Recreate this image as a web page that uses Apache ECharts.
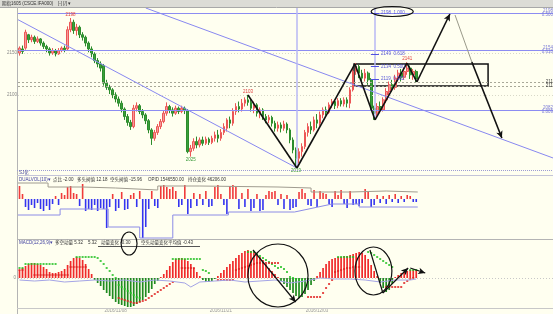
<!DOCTYPE html>
<html><head><meta charset="utf-8">
<script src="https://cdn.jsdelivr.net/npm/echarts@6/dist/echarts.min.js"></script>
<style>html,body{margin:0;padding:0;background:#fffff0;overflow:hidden}#c{width:553px;height:314px}</style>
</head><body><div id="c"></div>
<script>
// ---------- data ----------
const TOTAL = 178;
// [open, close, low, high]
const candles = [
[2150,2156,2147,2158],[2155,2152,2149,2159],[2156,2175,2154,2178],[2172,2166,2162,2173],[2166,2169,2163,2172],
[2169,2164,2161,2171],[2164,2167,2162,2170],[2167,2162,2159,2168],[2162,2158,2155,2164],[2158,2155,2151,2160],
[2155,2150,2147,2157],[2150,2153,2148,2156],[2153,2149,2146,2155],[2149,2153,2148,2156],[2153,2156,2151,2158],
[2156,2154,2151,2159],[2155,2178,2153,2182],[2178,2187,2175,2192],[2187,2177,2173,2190],[2177,2181,2171,2185],
[2181,2172,2168,2183],[2172,2169,2165,2175],[2169,2162,2158,2171],[2162,2155,2151,2164],[2155,2149,2145,2158],
[2149,2141,2138,2151],[2141,2137,2133,2144],[2137,2132,2128,2140],[2135,2114,2111,2137],[2114,2109,2106,2118],
[2109,2106,2101,2112],[2106,2100,2096,2108],[2100,2095,2091,2103],[2095,2090,2086,2098],[2090,2083,2079,2093],
[2083,2074,2070,2085],[2074,2067,2063,2077],[2067,2062,2058,2070],[2062,2084,2060,2088],[2084,2087,2080,2091],
[2087,2080,2077,2089],[2080,2076,2072,2083],[2076,2069,2065,2078],[2069,2058,2054,2071],[2058,2048,2040,2060],
[2048,2055,2045,2058],[2055,2062,2052,2065],[2062,2068,2059,2071],[2068,2078,2066,2081],[2078,2086,2075,2091],
[2086,2082,2078,2088],[2082,2078,2074,2085],[2078,2084,2076,2087],[2084,2080,2077,2086],[2080,2084,2078,2087],
[2084,2081,2077,2086],[2081,2032,2030,2083],[2032,2036,2026,2040],[2036,2044,2033,2048],[2044,2040,2036,2050],
[2040,2046,2037,2049],[2046,2042,2039,2050],[2042,2047,2040,2050],[2047,2043,2040,2049],[2043,2048,2041,2051],
[2048,2052,2044,2056],[2052,2048,2043,2058],[2048,2055,2045,2059],[2055,2062,2052,2066],[2060,2070,2056,2072],
[2070,2066,2060,2074],[2066,2080,2063,2084],[2080,2086,2076,2090],[2086,2083,2079,2092],[2083,2090,2080,2095],
[2090,2094,2086,2097],[2094,2091,2087,2100],[2091,2084,2080,2094],[2084,2088,2078,2092],[2088,2078,2074,2090],
[2078,2082,2072,2085],[2082,2074,2070,2084],[2074,2070,2066,2077],[2070,2073,2066,2076],[2073,2066,2062,2075],
[2066,2060,2056,2069],[2060,2064,2056,2068],[2064,2060,2055,2067],[2060,2065,2057,2069],[2065,2058,2054,2067],
[2058,2046,2042,2060],[2046,2034,2030,2049],[2034,2024,2013,2037],[2024,2032,2018,2036],[2032,2038,2026,2042],
[2038,2055,2035,2058],[2055,2062,2050,2066],[2062,2058,2053,2068],[2058,2070,2056,2074],[2070,2066,2060,2077],
[2066,2076,2063,2080],[2076,2082,2072,2085],[2082,2079,2075,2086],[2079,2088,2077,2091],[2088,2092,2084,2095],
[2092,2087,2083,2094],[2087,2093,2084,2096],[2093,2089,2086,2096],[2089,2094,2086,2097],[2094,2090,2085,2097],
[2090,2106,2084,2109],[2106,2128,2104,2132],[2128,2134,2124,2138],[2134,2126,2120,2136],[2126,2120,2114,2130],
[2120,2126,2116,2131],[2126,2118,2112,2128],[2118,2084,2082,2120],[2084,2078,2070,2087],[2078,2086,2075,2090],
[2086,2082,2078,2092],[2082,2094,2080,2097],[2094,2104,2090,2108],[2104,2112,2100,2116],[2112,2109,2104,2118],
[2109,2120,2106,2124],[2120,2126,2116,2130],[2126,2121,2116,2131],[2121,2128,2118,2133],[2128,2132,2124,2139],
[2132,2124,2119,2135],[2124,2128,2118,2131],[2128,2119,2115,2130]
];
const dualVol = [
13,5,-8,-11,-6,-9,-4,-10,-12,-7,
-11,-5,3,-6,6,4,12,13,6,5,
-7,15,-12,-10,-11,-6,-12,-9,-10,-29,
-8,5,-12,-9,7,-11,-10,4,6,-8,
8,-39,-28,-10,8,-7,-9,13,14,12,
10,12,8,-8,-6,14,-15,-9,6,-7,
5,-6,8,-8,-7,12,14,5,-6,-15,
13,14,12,-10,6,-8,10,-12,-9,5,
-12,-11,4,8,7,8,-6,5,-10,4,
-11,-9,-8,7,10,6,-6,-7,9,-8,
8,6,5,-5,-8,8,4,9,-5,-9,
8,-6,-5,-7,-4,10,7,-8,-6,4,
-4,3,-5,4,-3,5,-4,3,-3,4,
3,-3,-3
];
const dvUpper = [[-0.5,16],[9.5,16],[9.5,12],[21,12],[21,11],[32,11],[32,9],[46,9],[46,13],[60,13],[60,12],[86,12],[86,11],[97,11],[97,7],[110,7],[110,8],[122,8],[122,7],[132.5,7]];
const dvLower = [[-0.5,-16],[13.5,-16],[13.5,-10],[29.5,-10],[29.5,-28],[40,-28],[40,-39],[51,-39],[51,-16],[69.5,-16],[69.5,-13],[91.5,-13],[104,-5],[113,-5],[113,-8],[132.5,-8]];
const macdHist = [
8,10,12,14,15, 15,14,13,11,9, 6,5,5,6,7, 9,13,17,20,21, 20,18,14,9,4,
-2,-5,-8, -12,-15,-18,-21,-24,-26,-27,-28, -29,
-29,-28,-26,-24,-22,-19,-15,-11,-6, -3,1,
4,8,12,16,19,20,20,19,17,14,10,6,2,
-2,-4,-4,-3,-1,
2,5,8,11,14,17,20,23,25,27,28,27,26,24,21,18,14,10,7,4,1,
-3,-6,-9,-12,-15,-18,-20,-19,-16,-12,-7,-3,
2,6,10,14,17,19,20,21,21,22,22,23,24,25,26,25,23,19,13,7,2,
-5,-10,-14,-12,-6,
1,3,5,6,7,8,8,8
];
const macdLine = [[0,-2],[5,-3],[10,-2],[15,-4],[20,-3],[25,-2],[30,-3],[35,-2],[40,-4],[45,-2],[50,-3],[55,-5],[57,-9],[60,-4],[65,-3],[70,-2],[75,-4],[80,-3],[85,-2],[90,-5],[95,-3],[100,0],[105,-1],[110,-1],[115,-2],[120,-4],[125,-2],[130,-2],[132,-1]];
const greenDots = [[0,10],[1,10],[2,14],[3,14],[4,14],[5,14],[6,14],[7,14],[8,14],[9,14],[10,14],[11,14],[12,14],
[19,21],[20,21],[21,21],[22,21],[23,21],[24,21],[25,21],[26,20],[27,17],[28,14],[29,10],[30,7],[31,3],[32,0],
[33,-7],[34,-9],[35,-11],[36,-13],[37,-15],[38,-17],[39,-19],[40,-20],
[51,19],[52,19],[53,19],[54,19],[55,19],[56,19],[57,19],[58,19],[59,19],[60,19],[61,8],[62,7],[63,5],
[76,26],[77,26],[78,26],[79,24],[80,22],[81,20],[82,18],[83,16],[84,14],[85,12],[86,10],[87,11],[88,9],[89,6],
[90,1],[91,0],[92,-1],[93,-2],[94,-2],
[106,21],[107,21],[108,21],[109,21],[110,21],[111,21],
[116,26],[117,25],[118,23],[119,21],[120,19],[121,17],[122,15],[123,13],[124,11],[130,8],[131,8],[132,8]];
const redDots = [[0,8],[1,8],[5,3],[6,3],[7,3],[8,3],[9,3],[10,3],[11,3],[12,3],[13,3],[14,3],[15,3],[16,3],
[17,11],[18,11],[19,11],[20,11],[21,11],[22,11],
[33,-20],[34,-21],[35,-22],[36,-23],[37,-24],[38,-25],[39,-25],[40,-24],[41,-23],[42,-22],
[43,-20],[44,-18],[45,-16],[46,-14],[47,-12],[48,-10],[49,-8],[50,-6],[51,-4],
[54,10],[55,10],[56,10],[57,10],[58,10],
[66,-2],[67,-2],[68,-2],[69,-2],[70,-2],[71,-2],[72,8],[73,9],[74,10],[75,11],[76,12],[77,13],[78,14],
[79,15],[80,15],[81,15],[82,15],[83,15],[84,15],[85,15],[86,15],
[96,-19],[97,-19],[98,-19],[99,-19],[100,-19],[101,-15],[102,-10],[103,-6],[104,-2],
[105,6],[106,7],[107,8],[108,9],[109,10],[110,10],[111,11],[112,11],[113,11],
[122,-9],[123,-9],[124,-9],[125,-9],[126,-9],[127,-9],[128,-5],[129,-3],[130,-1],[131,0]];
const dateTicks = {32:'2016/11/08', 67:'2016/11/21', 99:'2016/12/03'};
// annotations in data space: [index, price]
const trendLines = [[-0.5,2190,92.3,2012.4],[42.0,2204,177.5,2024.4]];
const zigzag = [[76.0,2099.8],[92.3,2012.4],[111.6,2137],[118.3,2069.9],[128.9,2138.1],[132.2,2115.4],[143.2,2196.8]];
const projection = [[144.9,2195.6],[150.5,2139.3],[160.5,2048.3]];
const vertLines = [[92.3,2012.4],[118.3,2069.9]];
const fibLevels = [[2198,'2198  1.000'],[2149,'2149  0.618'],[2134,'2134  0.500'],[2119,'2119  0.382']];
const fibTick = [116.9,119.6];
const rightLevels = [[2198,'2198','0.500'],[2154,'2154','0.618'],[2082,'2082','0.809']];
const dottedLevels = [[2115.5,'2115'],[2110.6,'2110']];
const gridLevels = [2100,2150];
const boxArea = [[111.3,2137],[155.9,2110.6]];
const priceNotes = [[17,2192,'2198','top','#e03a3a'],[76,2100,'2103','top','#e03a3a'],[57,2026,'2025','bottom','#3a9a3a'],[92,2013,'2019','bottom','#3a9a3a'],[129,2139,'2141','top','#e03a3a']];
const mainRing = [[117,2205.8],[131,2193.8]];
const macdArrows = [[77.7,28,91.9,-24,1],[116.6,28,120.9,-15,0],[120.9,-15,129.3,10,1],[130,10,135,5,1]];
const macdRings = [[76,34,96,-29],[111.6,31,123.9,-17],[33.8,46,39.1,23]];

// ---------- chart ----------
const FONT = "'Liberation Sans','Noto Sans CJK SC',sans-serif";
const cats = Array.from({length: TOTAL}, (_, i) => String(i));
const chart = echarts.init(document.getElementById('c'), null, {renderer: 'canvas'});
const G = {left: 18, width: 535};
const grids = [
  Object.assign({top: 8, height: 162}, G),
  Object.assign({top: 180, height: 59}, G),
  Object.assign({top: 246, height: 62}, G)
];
const catAxis = (g, extra) => Object.assign({type: 'category', gridIndex: g, data: cats, boundaryGap: true,
  axisLine: {show: false}, axisTick: {show: false}, axisLabel: {show: false}, splitLine: {show: false}}, extra || {});
const valAxis = g => ({type: 'value', gridIndex: g, min: -0.5, max: TOTAL - 0.5, show: false});

const LS = (c, w) => ({color: c, width: w, type: 'solid'});
const ends = (a, b, arrow, ls) => [{coord: a, symbol: 'none', lineStyle: ls}, {coord: b, symbol: arrow ? 'arrow' : 'none', symbolSize: [5, 7]}];
const annot = [];
trendLines.forEach(t => annot.push(ends([t[0], t[1]], [t[2], t[3]], false, LS('#8888f0', 1))));
vertLines.forEach(v => annot.push(ends([v[0], 2204], [v[0], v[1]], false, LS('#b8b8f4', 1.5))));
for (let k = 0; k < zigzag.length - 1; k++) {
  annot.push(ends(zigzag[k], zigzag[k + 1], k === zigzag.length - 2, LS('#111', 1.6)));
}
annot.push(ends(projection[0], projection[1], false, LS('#9a9a8a', 1)));
annot.push(ends(projection[1], projection[2], true, LS('#111', 1.6)));
fibLevels.forEach(f => {
  const seg = ends([fibTick[0], f[0]], [fibTick[1], f[0]], false, LS('#5050e0', 1));
  seg[0].label = {show: true, position: 'end', formatter: f[1], color: '#5a5ad8', fontSize: 4.5, fontFamily: FONT, distance: 2};
  annot.push(seg);
});
const hLines = [];
rightLevels.forEach(r => {
  hLines.push({yAxis: r[0], lineStyle: LS('#8c8cf2', 1.2),
    label: {show: true, position: 'insideEndTop', formatter: r[1], color: '#7a7ad8', fontSize: 4.5, fontFamily: FONT, distance: 0, padding: 0}});
  hLines.push({yAxis: r[0], lineStyle: LS('#8c8cf2', 1.2),
    label: {show: true, position: 'insideEndBottom', formatter: r[2], color: '#7a7ad8', fontSize: 4.5, fontFamily: FONT, distance: 0, padding: 0}});
});
dottedLevels.forEach(d => hLines.push({yAxis: d[0], lineStyle: {color: '#a8a898', width: 1, type: [2, 2]},
  label: {show: true, position: 'insideEndTop', formatter: d[1], color: '#444', fontSize: 4.5, fontFamily: FONT, distance: -2.5, padding: 0}}));
gridLevels.forEach(v => hLines.push({yAxis: v, lineStyle: {color: '#d8d8c8', width: 1, type: [1, 2]}, label: {show: false}}));

const macdAnn = macdArrows.map(a => ends([a[0], a[1]], [a[2], a[3]], a[4], LS('#111', 1.2)));

const option = {
  animation: false,
  backgroundColor: '#fffff0',
  textStyle: {fontFamily: FONT},
  grid: grids,
  xAxis: [catAxis(0), valAxis(0), catAxis(1), valAxis(1),
    catAxis(2, {axisLabel: {show: true, fontSize: 4.5, color: '#9a9a9a', margin: 1, fontFamily: FONT,
      interval: idx => dateTicks[idx] !== undefined, formatter: (v, idx) => dateTicks[idx] || ''}}),
    valAxis(2)],
  yAxis: [
    {type: 'value', gridIndex: 0, min: 2010, max: 2204, scale: true, splitLine: {show: false}, axisLine: {show: false}, axisTick: {show: false},
      axisLabel: {show: true, customValues: gridLevels, formatter: v => String(v), fontSize: 4.5, color: '#888', margin: 1, fontFamily: FONT}},
    {type: 'value', gridIndex: 1, min: -40, max: 19, show: false},
    {type: 'value', gridIndex: 2, min: -30, max: 32, splitLine: {show: false}, axisLine: {show: false}, axisTick: {show: false},
      axisLabel: {show: true, customValues: [0], formatter: v => String(v), fontSize: 4.5, color: '#888', margin: 2, fontFamily: FONT}}
  ],
  series: [
    {type: 'candlestick', xAxisIndex: 0, yAxisIndex: 0, data: candles, barWidth: 2.2,
      itemStyle: {color: '#f59a9a', color0: '#3a9f3a', borderColor: '#ec5656', borderColor0: '#2c8c2c', borderWidth: 1},
      markLine: {silent: true, symbol: ['none', 'none'], label: {show: false}, lineStyle: {type: 'solid'}, data: hLines},
      markPoint: {silent: true, symbol: 'circle', symbolSize: 0.1, itemStyle: {color: 'rgba(0,0,0,0)'},
        data: priceNotes.map(n => ({coord: [n[0], n[1]], label: {show: true, position: n[3], formatter: n[2], color: n[4], fontSize: 4.5, fontFamily: FONT, distance: 1}}))}
    },
    {type: 'line', name: 'annot', xAxisIndex: 1, yAxisIndex: 0, data: [], silent: true,
      markLine: {silent: true, symbol: ['none', 'none'], label: {show: false}, lineStyle: {type: 'solid'}, data: annot},
      markArea: {silent: true, itemStyle: {color: 'rgba(0,0,0,0)', borderColor: '#111', borderWidth: 1.5},
        data: [[{coord: boxArea[0]}, {coord: boxArea[1]}]]}
    },
    {type: 'bar', xAxisIndex: 2, yAxisIndex: 1, data: dualVol, barWidth: 1.6,
      itemStyle: {color: p => p.value >= 0 ? '#f03a3a' : '#3434f0'}},
    {type: 'line', xAxisIndex: 3, yAxisIndex: 1, data: dvUpper, symbol: 'none', lineStyle: {color: '#a09c90', width: 1}},
    {type: 'line', xAxisIndex: 3, yAxisIndex: 1, data: dvLower, symbol: 'none', lineStyle: {color: '#8c8ce6', width: 1}},
    {type: 'bar', xAxisIndex: 4, yAxisIndex: 2, data: macdHist, barWidth: 1.7,
      itemStyle: {color: p => p.value >= 0 ? '#f02a2a' : '#1f8a1f'},
      markLine: {silent: true, symbol: ['none', 'none'], label: {show: false},
        data: [{yAxis: 0, lineStyle: {color: '#c8c8c8', width: 1, type: [1, 2]}}]}},
    {type: 'line', xAxisIndex: 5, yAxisIndex: 2, data: macdLine, symbol: 'none', lineStyle: {color: '#a4a4e6', width: 1}},
    {type: 'scatter', xAxisIndex: 5, yAxisIndex: 2, data: greenDots, symbol: 'rect', symbolSize: [2, 2], itemStyle: {color: '#22c022'}},
    {type: 'scatter', xAxisIndex: 5, yAxisIndex: 2, data: redDots, symbol: 'rect', symbolSize: [2, 2], itemStyle: {color: '#e02020'}},
    {type: 'line', xAxisIndex: 5, yAxisIndex: 2, data: [], silent: true,
      markLine: {silent: true, symbol: ['none', 'none'], label: {show: false}, lineStyle: {type: 'solid'}, data: macdAnn}}
  ]
};
chart.setOption(option);

// decorations (frames, titles, rings)
function ring(finder, a, b) {
  const p1 = chart.convertToPixel(finder, a), p2 = chart.convertToPixel(finder, b);
  return {type: 'ellipse', silent: true, z: 50,
    shape: {cx: (p1[0] + p2[0]) / 2, cy: (p1[1] + p2[1]) / 2, rx: Math.abs(p2[0] - p1[0]) / 2, ry: Math.abs(p2[1] - p1[1]) / 2},
    style: {fill: null, stroke: '#111', lineWidth: 1.2}};
}
const mf = {xAxisIndex: 5, yAxisIndex: 2};
const pf = {xAxisIndex: 1, yAxisIndex: 0};
const T = (x, y, s, c) => ({type: 'text', x: x, y: y, silent: true, z: 40,
  style: {text: s, fill: c || '#333', font: '4.5px ' + FONT, textVerticalAlign: 'middle'}});
const L = (x1, y1, x2, y2, c, dash) => ({type: 'line', silent: true, z: 30,
  shape: {x1: x1, y1: y1, x2: x2, y2: y2}, style: {stroke: c, lineWidth: 1, lineDash: dash || null}});
const graphics = [
  {type: 'rect', shape: {x: 0, y: 0, width: 553, height: 7}, style: {fill: '#dcdcd6'}, silent: true, z: 20},
  L(0, 7.5, 553, 7.5, '#a8a8a8'),
  L(17.5, 7, 17.5, 314, '#b4b4b4'),
  L(17, 170.5, 553, 170.5, '#9c9cd4', [1, 1]),
  L(17, 175.5, 553, 175.5, '#c4c4d8'),
  L(17, 239.5, 553, 239.5, '#b4b4b4'),
  L(17, 308.5, 553, 308.5, '#c8c8c8'),
  L(98, 246.5, 200, 246.5, '#555'),
  T(2, 3.5, '期指1605 (CSCE.IFA000)', '#333'),
  T(58, 3.5, '[-] [/] ▾', '#333'),
  T(19, 172.5, 'SJ化', '#5050a0'),
  T(19, 179.5, 'DUALVOL(10)▾', '#4040a0'),
  T(53, 179.5, '点比 -2.00', '#333'),
  T(77, 179.5, '多头阀值 12.18', '#333'),
  T(110, 179.5, '空头阀值 -15.96', '#333'),
  T(148, 179.5, 'OPID 1546550.00', '#333'),
  T(188, 179.5, '持仓变化 46206.00', '#333'),
  T(19, 242.5, 'MACD(12,26,9)▾', '#4040a0'),
  T(55, 242.5, '多空动量 5.32', '#333'),
  T(88, 242.5, '5.32', '#333'),
  T(101, 242.5, '动量变化 -0.30', '#333'),
  T(141, 242.5, '空头动量变化平均值 -0.43', '#333'),
  ring(pf, mainRing[0], mainRing[1])
];
macdRings.forEach(r => graphics.push(ring(mf, [r[0], r[1]], [r[2], r[3]])));
chart.setOption({graphic: graphics});
</script></body></html>
